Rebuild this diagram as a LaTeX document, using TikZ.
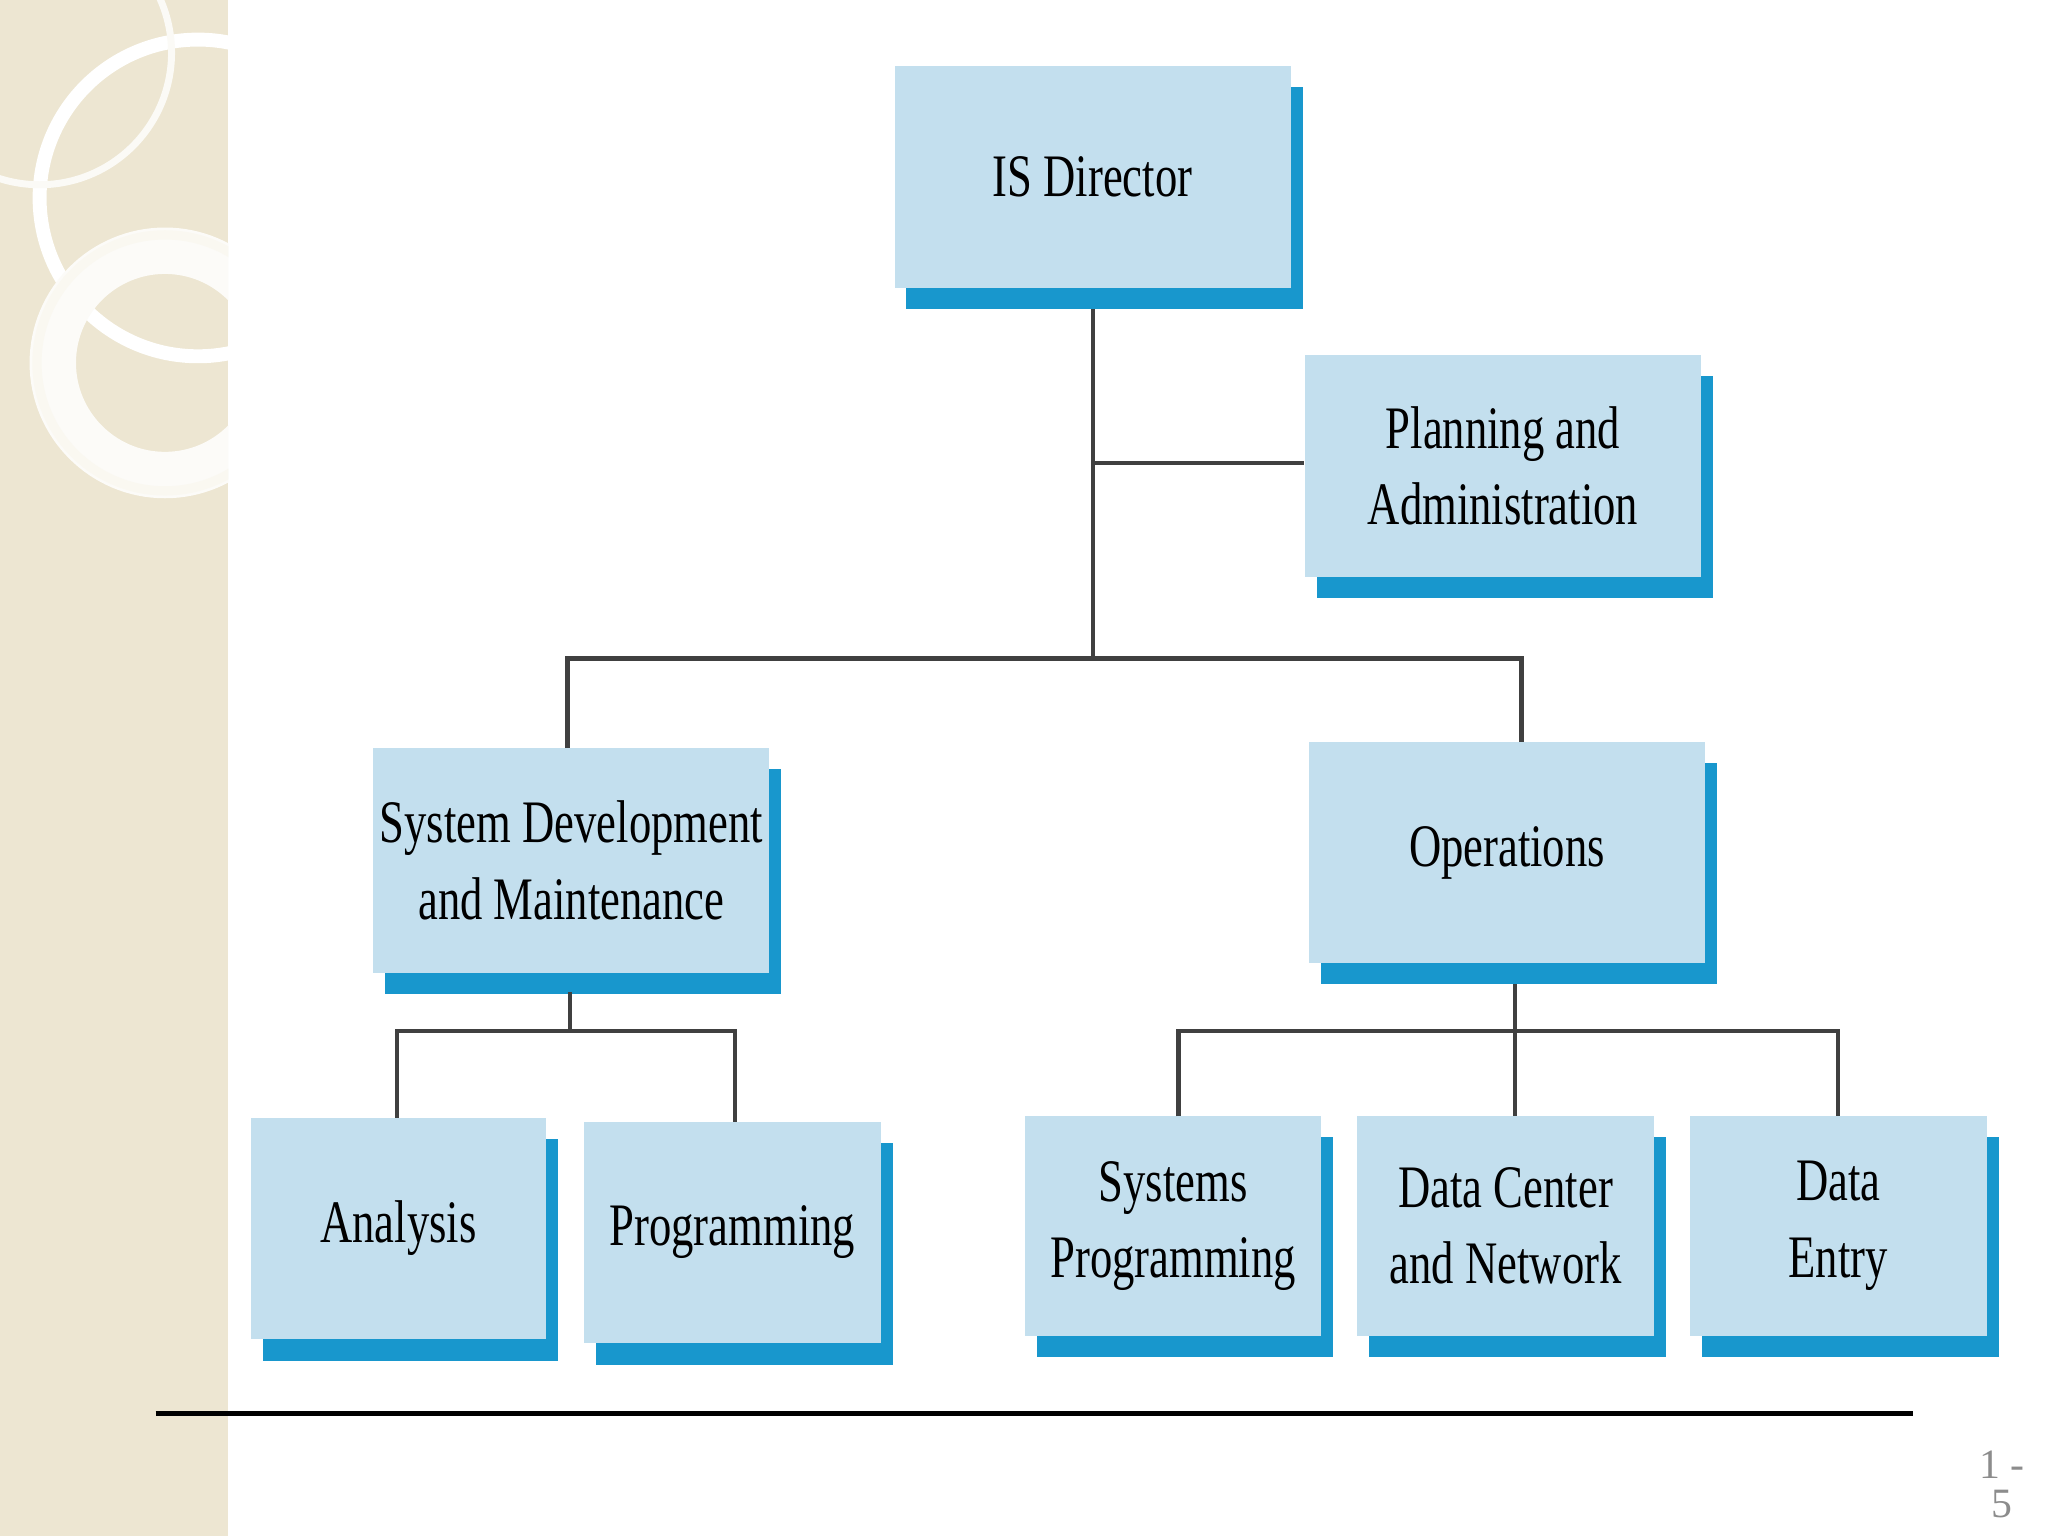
\documentclass[tikz,border=0pt]{standalone}
\usepackage{fontspec}
\setmainfont{Liberation Serif}
\newfontfamily\nf[FakeStretch=0.74]{Liberation Serif}
\usetikzlibrary{shadows}
\definecolor{boxfill}{HTML}{C3DFEE}
\definecolor{boxshadow}{HTML}{1897CD}
\definecolor{beige}{HTML}{EDE6D2}
\begin{document}
\begin{tikzpicture}[x=0.01cm,y=-0.01cm,
  box/.style={fill=boxfill,draw=none,inner sep=0pt,align=center,font=\nf\fontsize{13}{16.5}\selectfont,
    drop shadow={shadow xshift=0.09cm,shadow yshift=-0.16cm,fill=boxshadow,opacity=1}},
  conn/.style={draw=black!75,line width=0.9pt}]
\useasboundingbox (0,0) rectangle (1552,1164);
\fill[white] (0,0) rectangle (1552,1164);
\fill[beige] (0,0) rectangle (173,1164);
\begin{scope}
\clip (0,0) rectangle (173,1164);
\draw[white,line width=3pt] (150,150) circle (120);
\draw[white!85!beige,line width=10pt] (125,275) circle (85);
\draw[white!70!beige,line width=2pt] (125,275) circle (97);
\draw[white!80!beige,line width=1.5pt] (30,40) circle (100);
\end{scope}
\node[box,minimum width=3cm,minimum height=1.68cm] (dir) at (828,134) {IS Director};
\node[box,minimum width=3cm,minimum height=1.68cm] (plan) at (1139,353) {Planning and\\Administration};
\node[box,minimum width=3cm,minimum height=1.70cm] (sdm) at (433,652) {System Development\\and Maintenance};
\node[box,minimum width=3cm,minimum height=1.68cm] (ops) at (1142,646) {Operations};
\node[box,minimum width=2.24cm,minimum height=1.68cm] (ana) at (302,931) {Analysis};
\node[box,minimum width=2.25cm,minimum height=1.68cm] (prog) at (555,934) {Programming};
\node[box,minimum width=2.24cm,minimum height=1.67cm] (sp) at (889,929) {Systems\\Programming};
\node[box,minimum width=2.25cm,minimum height=1.67cm] (dc) at (1141,929) {Data Center\\and Network};
\node[box,minimum width=2.25cm,minimum height=1.67cm] (de) at (1393,929) {Data\\Entry};
\coordinate (j1) at (828,499);
\draw[conn] (828,234) -- (j1);
\draw[conn] (828,351) -- (plan.west |- 0,351);
\draw[conn] (430,567) -- (430,499) -- (1153,499) -- (1153,562);
\draw[conn] (432,752) -- (432,781);
\draw[conn] (301,847) -- (301,781) -- (557,781) -- (557,850);
\draw[conn] (1148,746) -- (1148,846);
\draw[conn] (893,846) -- (893,781) -- (1393,781) -- (1393,846);
\draw[black,line width=1pt] (118,1071) -- (1450,1071);
\node[text=black!45,font=\fontsize{9}{11}\selectfont] (pg1) at (1517,1110) {1 -};
\node[text=black!45,font=\fontsize{9}{11}\selectfont] (pg2) at (1517,1140) {5};
\end{tikzpicture}
\end{document}
